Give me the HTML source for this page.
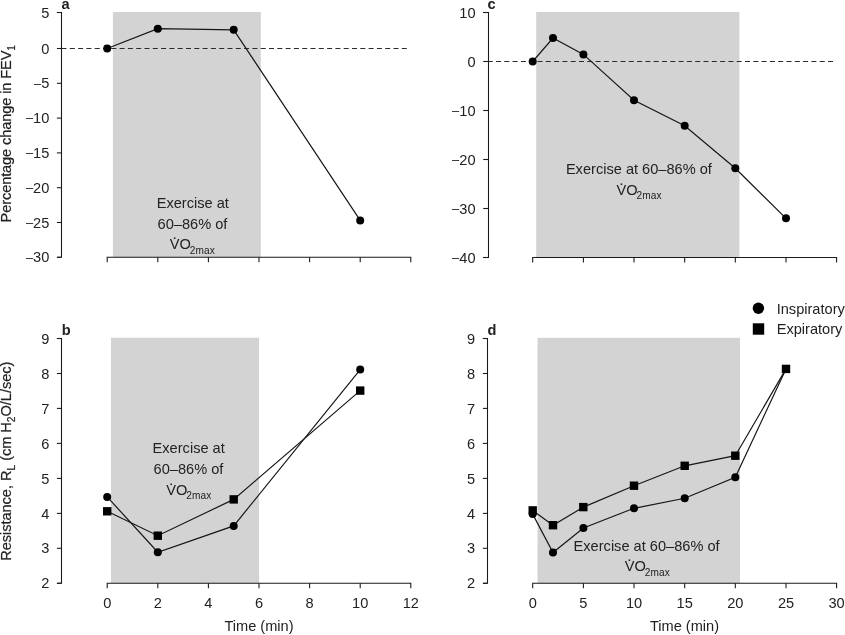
<!DOCTYPE html>
<html lang="en"><head><meta charset="utf-8"><title>Figure</title>
<style>
html,body{margin:0;padding:0;background:#fff}
svg{display:block}
text{font-family:"Liberation Sans",Arial,Helvetica,sans-serif;font-size:14.6px;fill:#222}
</style></head><body>
<svg width="845" height="635" viewBox="0 0 845 635">
<rect width="845" height="635" fill="#fff"/>
<rect x="112.9" y="12.0" width="147.9" height="245.3" fill="#d3d3d3"/>
<path d="M56.9 12.5H61.5V257.3H56.9" fill="none" stroke="#1a1a1a" stroke-width="1.08"/>
<path d="M56.9 12.5H61.5" stroke="#1a1a1a" stroke-width="1.08"/>
<text x="49.3" y="17.6" text-anchor="end" font-size="14.6">5</text>
<path d="M56.9 48.5H61.5" stroke="#1a1a1a" stroke-width="1.08"/>
<text x="49.3" y="53.6" text-anchor="end" font-size="14.6">0</text>
<path d="M56.9 83.3H61.5" stroke="#1a1a1a" stroke-width="1.08"/>
<text x="49.3" y="88.4" text-anchor="end" font-size="14.6"><tspan font-size="12.9" dy="-0.8">–</tspan><tspan dy="0.8">5</tspan></text>
<path d="M56.9 118.1H61.5" stroke="#1a1a1a" stroke-width="1.08"/>
<text x="49.3" y="123.2" text-anchor="end" font-size="14.6"><tspan font-size="12.9" dy="-0.8">–</tspan><tspan dy="0.8">10</tspan></text>
<path d="M56.9 152.9H61.5" stroke="#1a1a1a" stroke-width="1.08"/>
<text x="49.3" y="158.0" text-anchor="end" font-size="14.6"><tspan font-size="12.9" dy="-0.8">–</tspan><tspan dy="0.8">15</tspan></text>
<path d="M56.9 187.7H61.5" stroke="#1a1a1a" stroke-width="1.08"/>
<text x="49.3" y="192.8" text-anchor="end" font-size="14.6"><tspan font-size="12.9" dy="-0.8">–</tspan><tspan dy="0.8">20</tspan></text>
<path d="M56.9 222.5H61.5" stroke="#1a1a1a" stroke-width="1.08"/>
<text x="49.3" y="227.6" text-anchor="end" font-size="14.6"><tspan font-size="12.9" dy="-0.8">–</tspan><tspan dy="0.8">25</tspan></text>
<path d="M56.9 257.3H61.5" stroke="#1a1a1a" stroke-width="1.08"/>
<text x="49.3" y="262.4" text-anchor="end" font-size="14.6"><tspan font-size="12.9" dy="-0.8">–</tspan><tspan dy="0.8">30</tspan></text>
<path d="M107.2 262.3V257.3H410.8V262.3" fill="none" stroke="#1a1a1a" stroke-width="1.08"/>
<path d="M157.8 257.3v5" stroke="#1a1a1a" stroke-width="1.08"/>
<path d="M208.4 257.3v5" stroke="#1a1a1a" stroke-width="1.08"/>
<path d="M259.0 257.3v5" stroke="#1a1a1a" stroke-width="1.08"/>
<path d="M309.6 257.3v5" stroke="#1a1a1a" stroke-width="1.08"/>
<path d="M360.2 257.3v5" stroke="#1a1a1a" stroke-width="1.08"/>
<text x="61.5" y="8.8" text-anchor="start" font-weight="bold" font-size="15.2">a</text>
<path d="M61.5 48.45H408" stroke="#2a2a2a" stroke-width="1.1" stroke-dasharray="5 3.3"/>
<polyline fill="none" stroke="#161616" stroke-width="1.18" points="107.2,48.5 157.8,28.7 233.7,29.8 360.2,220.4"/>
<circle cx="107.2" cy="48.5" r="4.0" fill="#000"/>
<circle cx="157.8" cy="28.7" r="4.0" fill="#000"/>
<circle cx="233.7" cy="29.8" r="4.0" fill="#000"/>
<circle cx="360.2" cy="220.4" r="4.0" fill="#000"/>
<text x="192.8" y="208.0" text-anchor="middle" >Exercise at</text>
<text x="192.5" y="229.0" text-anchor="middle" >60–86% of</text>
<text><tspan x="172.44" y="251.2" font-size="18">˙</tspan><tspan x="169.8" y="249.0">VO</tspan><tspan font-size="10.1" dx="-1.1" dy="4.5" letter-spacing="0.12">2max</tspan></text>
<rect x="536.2" y="12.0" width="203.2" height="245.5" fill="#d3d3d3"/>
<path d="M483.2 12.5H488.5V257.5H483.2" fill="none" stroke="#1a1a1a" stroke-width="1.08"/>
<path d="M483.2 12.5H488.5" stroke="#1a1a1a" stroke-width="1.08"/>
<text x="475.5" y="17.6" text-anchor="end" font-size="14.6">10</text>
<path d="M483.2 61.5H488.5" stroke="#1a1a1a" stroke-width="1.08"/>
<text x="475.5" y="66.6" text-anchor="end" font-size="14.6">0</text>
<path d="M483.2 110.5H488.5" stroke="#1a1a1a" stroke-width="1.08"/>
<text x="475.5" y="115.6" text-anchor="end" font-size="14.6"><tspan font-size="12.9" dy="-0.8">–</tspan><tspan dy="0.8">10</tspan></text>
<path d="M483.2 159.5H488.5" stroke="#1a1a1a" stroke-width="1.08"/>
<text x="475.5" y="164.6" text-anchor="end" font-size="14.6"><tspan font-size="12.9" dy="-0.8">–</tspan><tspan dy="0.8">20</tspan></text>
<path d="M483.2 208.5H488.5" stroke="#1a1a1a" stroke-width="1.08"/>
<text x="475.5" y="213.6" text-anchor="end" font-size="14.6"><tspan font-size="12.9" dy="-0.8">–</tspan><tspan dy="0.8">30</tspan></text>
<path d="M483.2 257.5H488.5" stroke="#1a1a1a" stroke-width="1.08"/>
<text x="475.5" y="262.6" text-anchor="end" font-size="14.6"><tspan font-size="12.9" dy="-0.8">–</tspan><tspan dy="0.8">40</tspan></text>
<path d="M532.7 262.5V257.5H836.6V262.5" fill="none" stroke="#1a1a1a" stroke-width="1.08"/>
<path d="M583.4 257.5v5" stroke="#1a1a1a" stroke-width="1.08"/>
<path d="M634.0 257.5v5" stroke="#1a1a1a" stroke-width="1.08"/>
<path d="M684.7 257.5v5" stroke="#1a1a1a" stroke-width="1.08"/>
<path d="M735.3 257.5v5" stroke="#1a1a1a" stroke-width="1.08"/>
<path d="M786.0 257.5v5" stroke="#1a1a1a" stroke-width="1.08"/>
<text x="487.5" y="8.8" text-anchor="start" font-weight="bold" font-size="15.2">c</text>
<path d="M487.7 61.5H836" stroke="#2a2a2a" stroke-width="1.1" stroke-dasharray="5 3.3"/>
<polyline fill="none" stroke="#161616" stroke-width="1.18" points="532.7,61.5 553.0,38.0 583.4,54.4 634.0,100.2 684.7,125.7 735.3,168.3 786.0,218.3"/>
<circle cx="532.7" cy="61.5" r="4.0" fill="#000"/>
<circle cx="553.0" cy="38.0" r="4.0" fill="#000"/>
<circle cx="583.4" cy="54.4" r="4.0" fill="#000"/>
<circle cx="634.0" cy="100.2" r="4.0" fill="#000"/>
<circle cx="684.7" cy="125.7" r="4.0" fill="#000"/>
<circle cx="735.3" cy="168.3" r="4.0" fill="#000"/>
<circle cx="786.0" cy="218.3" r="4.0" fill="#000"/>
<text x="638.9" y="174.0" text-anchor="middle" >Exercise at 60–86% of</text>
<text><tspan x="619.14" y="196.9" font-size="18">˙</tspan><tspan x="616.5" y="194.7">VO</tspan><tspan font-size="10.1" dx="-1.1" dy="4.5" letter-spacing="0.12">2max</tspan></text>
<rect x="111.0" y="337.7" width="148.1" height="245.6" fill="#d3d3d3"/>
<path d="M56.9 338.5H61.5V583.3H56.9" fill="none" stroke="#1a1a1a" stroke-width="1.08"/>
<path d="M56.9 338.5H61.5" stroke="#1a1a1a" stroke-width="1.08"/>
<text x="49.3" y="343.6" text-anchor="end" font-size="14.6">9</text>
<path d="M56.9 373.5H61.5" stroke="#1a1a1a" stroke-width="1.08"/>
<text x="49.3" y="378.6" text-anchor="end" font-size="14.6">8</text>
<path d="M56.9 408.4H61.5" stroke="#1a1a1a" stroke-width="1.08"/>
<text x="49.3" y="413.5" text-anchor="end" font-size="14.6">7</text>
<path d="M56.9 443.4H61.5" stroke="#1a1a1a" stroke-width="1.08"/>
<text x="49.3" y="448.5" text-anchor="end" font-size="14.6">6</text>
<path d="M56.9 478.4H61.5" stroke="#1a1a1a" stroke-width="1.08"/>
<text x="49.3" y="483.5" text-anchor="end" font-size="14.6">5</text>
<path d="M56.9 513.4H61.5" stroke="#1a1a1a" stroke-width="1.08"/>
<text x="49.3" y="518.5" text-anchor="end" font-size="14.6">4</text>
<path d="M56.9 548.3H61.5" stroke="#1a1a1a" stroke-width="1.08"/>
<text x="49.3" y="553.4" text-anchor="end" font-size="14.6">3</text>
<path d="M56.9 583.3H61.5" stroke="#1a1a1a" stroke-width="1.08"/>
<text x="49.3" y="588.4" text-anchor="end" font-size="14.6">2</text>
<path d="M107.2 588.3V583.3H410.8V588.3" fill="none" stroke="#1a1a1a" stroke-width="1.08"/>
<path d="M157.8 583.3v5" stroke="#1a1a1a" stroke-width="1.08"/>
<path d="M208.4 583.3v5" stroke="#1a1a1a" stroke-width="1.08"/>
<path d="M259.0 583.3v5" stroke="#1a1a1a" stroke-width="1.08"/>
<path d="M309.6 583.3v5" stroke="#1a1a1a" stroke-width="1.08"/>
<path d="M360.2 583.3v5" stroke="#1a1a1a" stroke-width="1.08"/>
<text x="107.2" y="608.3" text-anchor="middle" >0</text>
<text x="157.8" y="608.3" text-anchor="middle" >2</text>
<text x="208.4" y="608.3" text-anchor="middle" >4</text>
<text x="259.0" y="608.3" text-anchor="middle" >6</text>
<text x="309.6" y="608.3" text-anchor="middle" >8</text>
<text x="360.2" y="608.3" text-anchor="middle" >10</text>
<text x="410.8" y="608.3" text-anchor="middle" >12</text>
<text x="61.8" y="334.8" text-anchor="start" font-weight="bold" font-size="15.2">b</text>
<polyline fill="none" stroke="#161616" stroke-width="1.18" points="107.2,496.9 157.8,552.2 233.7,525.9 360.2,369.6"/>
<polyline fill="none" stroke="#161616" stroke-width="1.18" points="107.2,511.3 157.8,535.7 233.7,499.4 360.2,390.6"/>
<circle cx="107.2" cy="496.9" r="4.0" fill="#000"/>
<circle cx="157.8" cy="552.2" r="4.0" fill="#000"/>
<circle cx="233.7" cy="525.9" r="4.0" fill="#000"/>
<circle cx="360.2" cy="369.6" r="4.0" fill="#000"/>
<rect x="103.0" y="507.1" width="8.4" height="8.4" fill="#000"/>
<rect x="153.6" y="531.5" width="8.4" height="8.4" fill="#000"/>
<rect x="229.5" y="495.2" width="8.4" height="8.4" fill="#000"/>
<rect x="356.0" y="386.4" width="8.4" height="8.4" fill="#000"/>
<text x="188.7" y="453.4" text-anchor="middle" >Exercise at</text>
<text x="188.5" y="474.2" text-anchor="middle" >60–86% of</text>
<text><tspan x="168.94" y="496.7" font-size="18">˙</tspan><tspan x="166.3" y="494.5">VO</tspan><tspan font-size="10.1" dx="-1.1" dy="4.5" letter-spacing="0.12">2max</tspan></text>
<text x="259.0" y="631.3" text-anchor="middle" >Time (min)</text>
<rect x="537.5" y="337.8" width="202.5" height="245.5" fill="#d3d3d3"/>
<path d="M482.9 338.5H487.5V583.3H482.9" fill="none" stroke="#1a1a1a" stroke-width="1.08"/>
<path d="M482.9 338.5H487.5" stroke="#1a1a1a" stroke-width="1.08"/>
<text x="475.1" y="343.6" text-anchor="end" font-size="14.6">9</text>
<path d="M482.9 373.5H487.5" stroke="#1a1a1a" stroke-width="1.08"/>
<text x="475.1" y="378.6" text-anchor="end" font-size="14.6">8</text>
<path d="M482.9 408.4H487.5" stroke="#1a1a1a" stroke-width="1.08"/>
<text x="475.1" y="413.5" text-anchor="end" font-size="14.6">7</text>
<path d="M482.9 443.4H487.5" stroke="#1a1a1a" stroke-width="1.08"/>
<text x="475.1" y="448.5" text-anchor="end" font-size="14.6">6</text>
<path d="M482.9 478.4H487.5" stroke="#1a1a1a" stroke-width="1.08"/>
<text x="475.1" y="483.5" text-anchor="end" font-size="14.6">5</text>
<path d="M482.9 513.4H487.5" stroke="#1a1a1a" stroke-width="1.08"/>
<text x="475.1" y="518.5" text-anchor="end" font-size="14.6">4</text>
<path d="M482.9 548.3H487.5" stroke="#1a1a1a" stroke-width="1.08"/>
<text x="475.1" y="553.4" text-anchor="end" font-size="14.6">3</text>
<path d="M482.9 583.3H487.5" stroke="#1a1a1a" stroke-width="1.08"/>
<text x="475.1" y="588.4" text-anchor="end" font-size="14.6">2</text>
<path d="M532.7 588.3V583.3H836.6V588.3" fill="none" stroke="#1a1a1a" stroke-width="1.08"/>
<path d="M583.4 583.3v5" stroke="#1a1a1a" stroke-width="1.08"/>
<path d="M634.0 583.3v5" stroke="#1a1a1a" stroke-width="1.08"/>
<path d="M684.7 583.3v5" stroke="#1a1a1a" stroke-width="1.08"/>
<path d="M735.3 583.3v5" stroke="#1a1a1a" stroke-width="1.08"/>
<path d="M786.0 583.3v5" stroke="#1a1a1a" stroke-width="1.08"/>
<text x="532.7" y="608.3" text-anchor="middle" >0</text>
<text x="583.4" y="608.3" text-anchor="middle" >5</text>
<text x="634.0" y="608.3" text-anchor="middle" >10</text>
<text x="684.7" y="608.3" text-anchor="middle" >15</text>
<text x="735.3" y="608.3" text-anchor="middle" >20</text>
<text x="786.0" y="608.3" text-anchor="middle" >25</text>
<text x="836.6" y="608.3" text-anchor="middle" >30</text>
<text x="487.6" y="334.8" text-anchor="start" font-weight="bold" font-size="15.2">d</text>
<polyline fill="none" stroke="#161616" stroke-width="1.18" points="532.7,514.1 553.0,552.5 583.4,528.0 634.0,508.3 684.7,498.3 735.3,477.3 786.0,368.9"/>
<polyline fill="none" stroke="#161616" stroke-width="1.18" points="532.7,510.4 553.0,525.2 583.4,507.1 634.0,485.7 684.7,465.8 735.3,455.7 786.0,368.9"/>
<circle cx="532.7" cy="514.1" r="4.0" fill="#000"/>
<circle cx="553.0" cy="552.5" r="4.0" fill="#000"/>
<circle cx="583.4" cy="528.0" r="4.0" fill="#000"/>
<circle cx="634.0" cy="508.3" r="4.0" fill="#000"/>
<circle cx="684.7" cy="498.3" r="4.0" fill="#000"/>
<circle cx="735.3" cy="477.3" r="4.0" fill="#000"/>
<circle cx="786.0" cy="368.9" r="4.0" fill="#000"/>
<rect x="528.5" y="506.2" width="8.4" height="8.4" fill="#000"/>
<rect x="548.8" y="521.0" width="8.4" height="8.4" fill="#000"/>
<rect x="579.1" y="502.9" width="8.4" height="8.4" fill="#000"/>
<rect x="629.8" y="481.5" width="8.4" height="8.4" fill="#000"/>
<rect x="680.5" y="461.6" width="8.4" height="8.4" fill="#000"/>
<rect x="731.1" y="451.5" width="8.4" height="8.4" fill="#000"/>
<rect x="781.8" y="364.7" width="8.4" height="8.4" fill="#000"/>
<text x="646.6" y="550.6" text-anchor="middle" >Exercise at 60–86% of</text>
<text><tspan x="627.34" y="573.2" font-size="18">˙</tspan><tspan x="624.7" y="571.0">VO</tspan><tspan font-size="10.1" dx="-1.1" dy="4.5" letter-spacing="0.12">2max</tspan></text>
<text x="684.5" y="631.3" text-anchor="middle" >Time (min)</text>
<circle cx="758.4" cy="308.2" r="5.7" fill="#000"/>
<rect x="752.8" y="323.3" width="11.4" height="11.4" fill="#000"/>
<text x="776.7" y="313.6" text-anchor="start" >Inspiratory</text>
<text x="776.7" y="334.4" text-anchor="start" >Expiratory</text>
<text transform="translate(11.2,222.4) rotate(-90)" textLength="177.4" stroke="#222" stroke-width="0.2" lengthAdjust="spacing">Percentage change in FEV<tspan font-size="10.3" dy="3.6">1</tspan></text>
<text transform="translate(11.2,560.8) rotate(-90)" textLength="199.2" stroke="#222" stroke-width="0.2" lengthAdjust="spacing">Resistance, R<tspan font-size="10.3" dy="3.6">L</tspan><tspan dy="-3.6"> (cm H</tspan><tspan font-size="10.3" dy="3.6">2</tspan><tspan dy="-3.6">O/L/sec)</tspan></text>
</svg>
</body></html>
